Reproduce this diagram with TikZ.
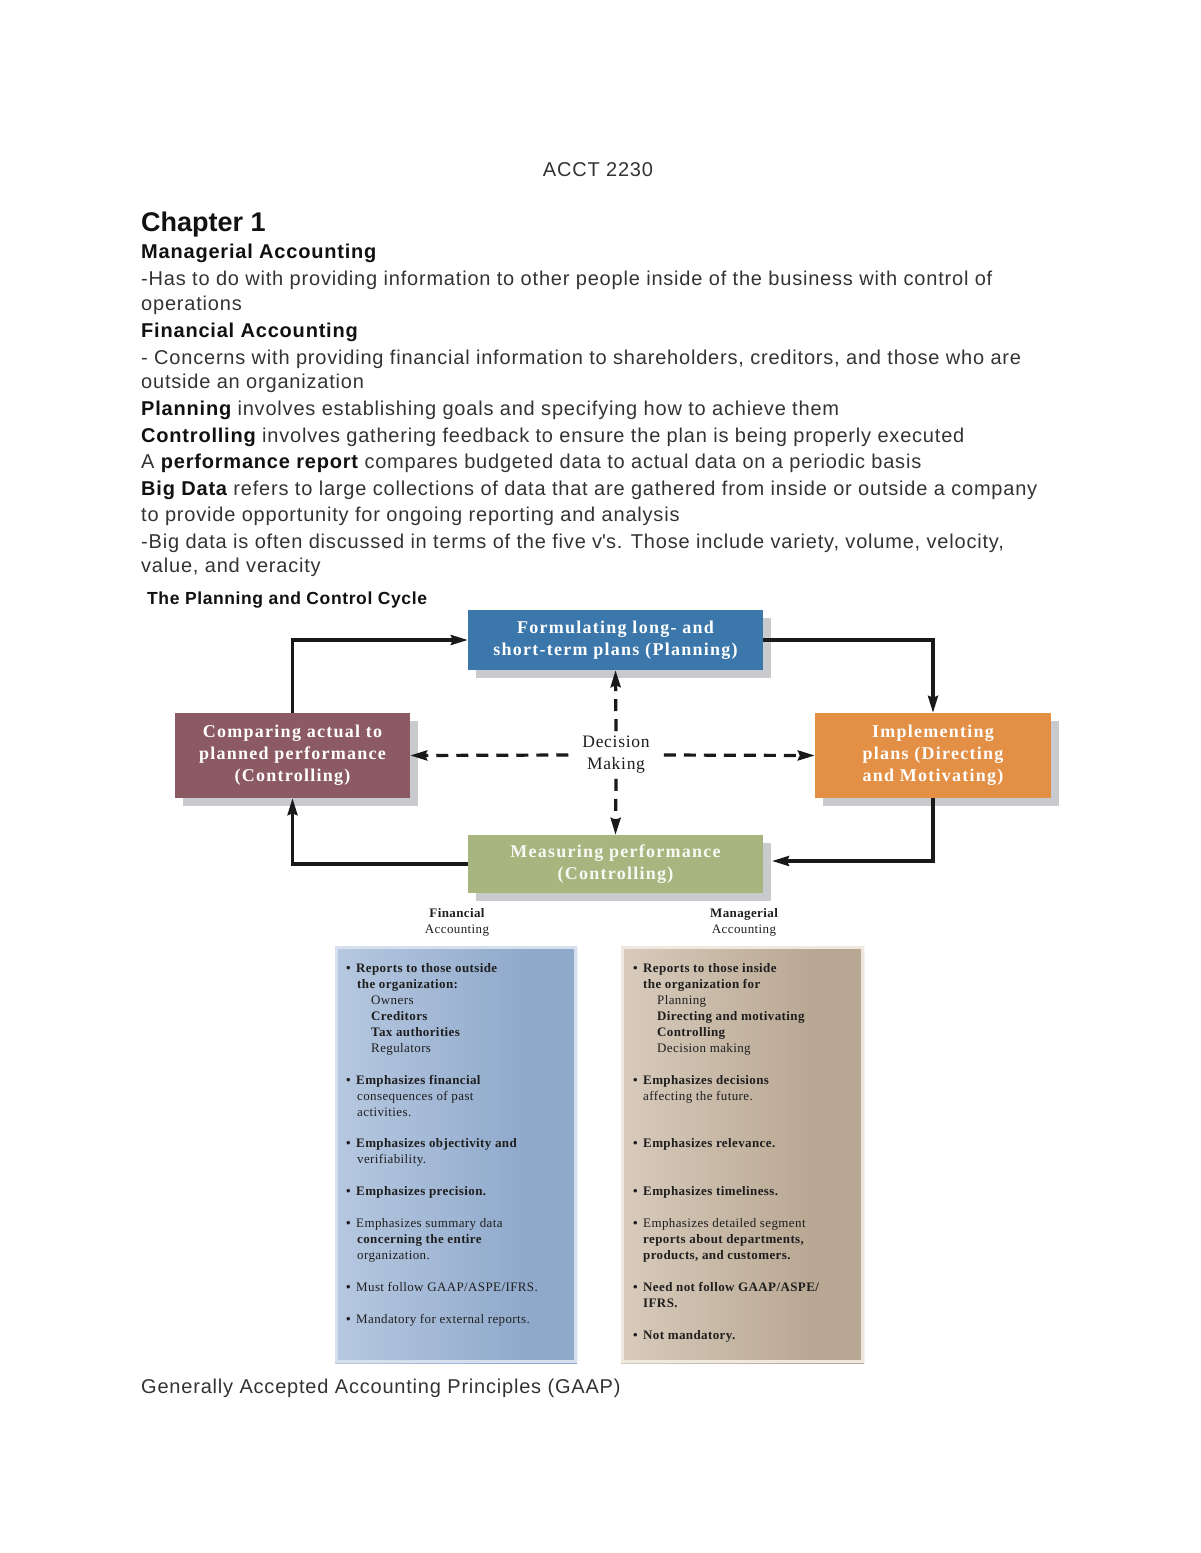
\documentclass[tikz,border=0pt]{standalone}
\usepackage{fontspec}
\setmainfont[LetterSpace=4]{Liberation Sans}
\newfontfamily\plainsans{Liberation Sans}
\newfontfamily\headsans[LetterSpace=4]{Liberation Sans}
\newfontfamily\cycsans[LetterSpace=3.5]{Liberation Sans}
\newfontfamily\boxserif[LetterSpace=7]{Liberation Serif}
\newfontfamily\listserif[LetterSpace=3]{Liberation Serif}
\newfontfamily\dmserif[LetterSpace=4]{Liberation Serif}
\usetikzlibrary{arrows.meta,calc}
\definecolor{bodygray}{HTML}{333333}
\definecolor{boldblack}{HTML}{111111}
\definecolor{planblue}{HTML}{3B77AB}
\definecolor{compred}{HTML}{8C5A62}
\definecolor{implorange}{HTML}{E38F45}
\definecolor{measgreen}{HTML}{A9B57F}
\definecolor{shadowc}{HTML}{C8CACD}
\definecolor{finL}{HTML}{D0DCEE}
\definecolor{finR}{HTML}{8FA9CB}
\definecolor{finB}{HTML}{D5DFEE}
\definecolor{manL}{HTML}{ECE2D6}
\definecolor{manR}{HTML}{B8A792}
\definecolor{manB}{HTML}{EFE8DF}
\definecolor{listtext}{HTML}{1E1E1E}
\pgfdeclarehorizontalshading{finshade}{100bp}{color(0bp)=(finL); color(65bp)=(finR); color(100bp)=(finR)}
\pgfdeclarehorizontalshading{manshade}{100bp}{color(0bp)=(manL); color(65bp)=(manR); color(100bp)=(manR)}
\newcommand{\bt}[1]{{\color{boldblack}\bfseries #1}}
\newcommand{\Lr}[4]{\node[lst] (#1) at (#2,#3) {#4};}
\newcommand{\Lb}[4]{\node[lstb] (#1) at (#2,#3) {#4};}
\tikzset{
  body/.style={anchor=base west, inner sep=0pt, text=bodygray, font=\fontsize{20}{25}\selectfont},
  cyclebox/.style={draw=none, minimum width=#1, inner sep=0pt, align=center, text=white,
     font=\boxserif\bfseries\fontsize{18}{22}\selectfont},
  conn/.style={line width=3.2pt, draw=black!90, -{Stealth[length=17pt,width=10pt,inset=2pt]}},
  dconn/.style={conn, dash pattern=on 12pt off 8pt},
  lst/.style={anchor=base west, inner sep=0pt, text=listtext, font=\listserif\fontsize{13}{16}\selectfont},
  lstb/.style={lst, font=\listserif\bfseries\fontsize{13}{16}\selectfont},
  colhead/.style={anchor=base, inner sep=0pt, text=listtext, font=\listserif\fontsize{13}{16}\selectfont},
}
\begin{document}
\begin{tikzpicture}[x=1pt,y=-1pt]
\useasboundingbox (0,0) rectangle (1200,1553);
\fill[white] (0,0) rectangle (1200,1553);

% ---------- text ----------
\node[anchor=base, inner sep=0pt, text=bodygray, font=\fontsize{20}{25}\selectfont] (acct) at (598,176) {ACCT 2230};
\node[anchor=base west, inner sep=0pt, text=boldblack, font=\plainsans\bfseries\fontsize{27}{30}\selectfont] (chap) at (141,231) {Chapter 1};
\node[body] (h1) at (141,258) {\color{boldblack}\headsans\bfseries Managerial Accounting};
\node[body] (t1) at (141,285) {-Has to do with providing information to other people inside of the business with control of};
\node[body] (t2) at (141,310) {operations};
\node[body] (h2) at (141,337) {\color{boldblack}\headsans\bfseries Financial Accounting};
\node[body] (t3) at (141,364) {- Concerns with providing financial information to shareholders, creditors, and those who are};
\node[body] (t4) at (141,388) {outside an organization};
\node[body] (t5) at (141,415) {\bt{Planning} involves establishing goals and specifying how to achieve them};
\node[body] (t6) at (141,442) {\bt{Controlling} involves gathering feedback to ensure the plan is being properly executed};
\node[body] (t7) at (141,468) {A {\color{boldblack}\headsans\bfseries performance report} compares budgeted data to actual data on a periodic basis};
\node[body] (t8) at (141,495) {\bt{Big Data} refers to large collections of data that are gathered from inside or outside a company};
\node[body] (t9) at (141,521) {to provide opportunity for ongoing reporting and analysis};
\node[body] (t10) at (141,548) {-Big data is often discussed in terms of the five v\textquotesingle s. Those include variety, volume, velocity,};
\node[body] (t11) at (141,572) {value, and veracity};
\node[anchor=base west, inner sep=0pt, text=boldblack, font=\cycsans\bfseries\fontsize{17.5}{20}\selectfont] (cyc) at (147,604) {The Planning and Control Cycle};
\node[anchor=base west, inner sep=0pt, text=bodygray, font=\fontsize{20}{25}\selectfont] (gaap) at (141,1393) {Generally Accepted Accounting Principles (GAAP)};

% ---------- cycle diagram ----------
\fill[shadowc] (476,618) rectangle (771,678);
\fill[shadowc] (183,721) rectangle (418,806);
\fill[shadowc] (823,721) rectangle (1059,806);
\fill[shadowc] (476,843) rectangle (771,901);

\node[cyclebox=295pt, fill=planblue, minimum height=60pt] (plan) at (615.5,640) {Formulating long- and\\short-term plans (Planning)};
\node[cyclebox=235pt, fill=compred, minimum height=85pt] (comp) at (292.5,755.5) {Comparing actual to\\planned performance\\(Controlling)};
\node[cyclebox=236pt, fill=implorange, minimum height=85pt] (impl) at (933,755.5) {Implementing\\plans (Directing\\and Motivating)};
\node[cyclebox=295pt, fill=measgreen, minimum height=58pt, text=white!92!measgreen] (meas) at (615.5,864) {Measuring performance\\(Controlling)};
\node[align=center, inner xsep=14pt, inner ysep=5pt, text=listtext, font=\dmserif\fontsize{17.5}{22}\selectfont] (dm) at (616,755) {Decision\\Making};
\coordinate (measR) at (772,861);

\draw[conn] (comp.north) |- (plan.west);
\draw[conn] (plan.east) -| (impl.north);
\draw[conn] (impl.south) |- (measR);
\draw[conn] (meas.west) -| (comp.south);
\draw[dconn] (dm.north) -- (plan.south);
\draw[dconn] (dm.south) -- (meas.north);
\draw[dconn] (dm.west) -- (comp.east);
\draw[dconn] (dm.east) -- (impl.west);

% ---------- comparison boxes ----------
\node[colhead, font=\listserif\bfseries\fontsize{13}{16}\selectfont] (fh1) at (457,917) {Financial};
\node[colhead] (fh2) at (457,933) {Accounting};
\node[colhead, font=\listserif\bfseries\fontsize{13}{16}\selectfont] (mh1) at (744,917) {Managerial};
\node[colhead] (mh2) at (744,933) {Accounting};

\shade[shading=finshade] (335,946) rectangle (577,1363);
\draw[finB, line width=3pt] (336.5,947.5) rectangle (575.5,1361.5);
\shade[shading=manshade] (621,946) rectangle (864,1363);
\draw[manB, line width=3pt] (622.5,947.5) rectangle (862.5,1361.5);

% Financial column
\Lb{fb1}{346}{972}{•}
\Lb{fa1}{356}{972}{Reports to those outside}
\Lb{fa2}{357}{988}{the organization:}
\Lr{fa3}{371}{1004}{Owners}
\Lb{fa4}{371}{1020}{Creditors}
\Lb{fa5}{371}{1036}{Tax authorities}
\Lr{fa6}{371}{1052}{Regulators}
\Lb{fb2}{346}{1084}{•}
\Lb{fa7}{356}{1084}{Emphasizes financial}
\Lr{fa8}{357}{1100}{consequences of past}
\Lr{fa9}{357}{1116}{activities.}
\Lb{fb3}{346}{1147}{•}
\Lb{fa10}{356}{1147}{Emphasizes objectivity and}
\Lr{fa11}{357}{1163}{verifiability.}
\Lb{fb4}{346}{1195}{•}
\Lb{fa12}{356}{1195}{Emphasizes precision.}
\Lb{fb5}{346}{1227}{•}
\Lr{fa13}{356}{1227}{Emphasizes summary data}
\Lb{fa14}{357}{1243}{concerning the entire}
\Lr{fa15}{357}{1259}{organization.}
\Lb{fb6}{346}{1291}{•}
\Lr{fa16}{356}{1291}{Must follow GAAP/ASPE/IFRS.}
\Lb{fb7}{346}{1323}{•}
\Lr{fa17}{356}{1323}{Mandatory for external reports.}

% Managerial column
\Lb{mb1}{633}{972}{•}
\Lb{ma1}{643}{972}{Reports to those inside}
\Lb{ma2}{643}{988}{the organization for}
\Lr{ma3}{657}{1004}{Planning}
\Lb{ma4}{657}{1020}{Directing and motivating}
\Lb{ma5}{657}{1036}{Controlling}
\Lr{ma6}{657}{1052}{Decision making}
\Lb{mb2}{633}{1084}{•}
\Lb{ma7}{643}{1084}{Emphasizes decisions}
\Lr{ma8}{643}{1100}{affecting the future.}
\Lb{mb3}{633}{1147}{•}
\Lb{ma9}{643}{1147}{Emphasizes relevance.}
\Lb{mb4}{633}{1195}{•}
\Lb{ma10}{643}{1195}{Emphasizes timeliness.}
\Lb{mb5}{633}{1227}{•}
\Lr{ma11}{643}{1227}{Emphasizes detailed segment}
\Lb{ma12}{643}{1243}{reports about departments,}
\Lb{ma13}{643}{1259}{products, and customers.}
\Lb{mb6}{633}{1291}{•}
\Lb{ma14}{643}{1291}{Need not follow GAAP/ASPE/}
\Lb{ma15}{643}{1307}{IFRS.}
\Lb{mb7}{633}{1339}{•}
\Lb{ma16}{643}{1339}{Not mandatory.}
\end{tikzpicture}
\end{document}
